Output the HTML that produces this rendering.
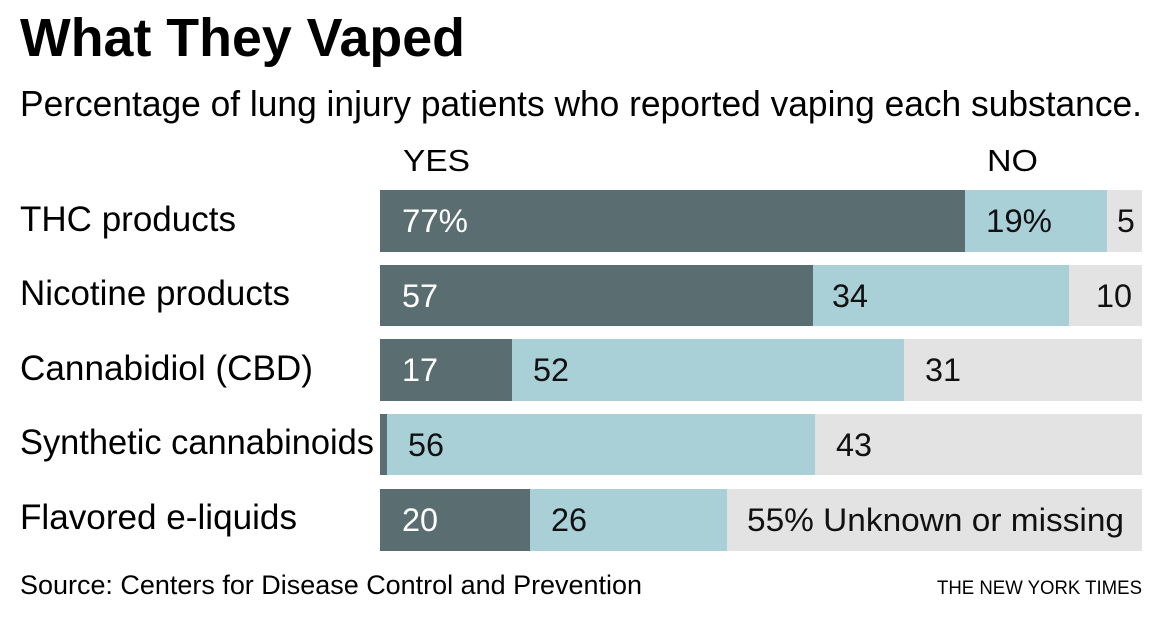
<!DOCTYPE html>
<html><head><meta charset="utf-8"><style>
html,body{margin:0;padding:0;background:#fff;}
svg{display:block;font-family:"Liberation Sans",Arial,sans-serif;}
</style></head><body>
<svg width="1164" height="622" viewBox="0 0 1164 622">
<text x="20" y="56" font-size="54" font-weight="bold" textLength="445" lengthAdjust="spacingAndGlyphs">What They Vaped</text>
<text x="20" y="116" font-size="36" textLength="1122" lengthAdjust="spacingAndGlyphs">Percentage of lung injury patients who reported vaping each substance.</text>
<text x="403" y="171" font-size="31" textLength="67" lengthAdjust="spacingAndGlyphs">YES</text>
<text x="987" y="171" font-size="31" textLength="51" lengthAdjust="spacingAndGlyphs">NO</text>
<g font-size="35">
<text x="20" y="231" textLength="216" lengthAdjust="spacingAndGlyphs">THC products</text>
<text x="20" y="305" textLength="270" lengthAdjust="spacingAndGlyphs">Nicotine products</text>
<text x="20" y="380" textLength="293" lengthAdjust="spacingAndGlyphs">Cannabidiol (CBD)</text>
<text x="20" y="454" textLength="354" lengthAdjust="spacingAndGlyphs">Synthetic cannabinoids</text>
<text x="20" y="529" textLength="277" lengthAdjust="spacingAndGlyphs">Flavored e-liquids</text>
</g>
<g>
<rect x="380" y="190" width="762" height="62" fill="#e3e3e3"/>
<rect x="380" y="190" width="727" height="62" fill="#a9d0d7"/>
<rect x="380" y="190" width="585" height="62" fill="#5a6d71"/>
<rect x="380" y="265" width="762" height="61" fill="#e3e3e3"/>
<rect x="380" y="265" width="689" height="61" fill="#a9d0d7"/>
<rect x="380" y="265" width="433" height="61" fill="#5a6d71"/>
<rect x="380" y="339" width="762" height="62" fill="#e3e3e3"/>
<rect x="380" y="339" width="524" height="62" fill="#a9d0d7"/>
<rect x="380" y="339" width="132" height="62" fill="#5a6d71"/>
<rect x="380" y="414" width="762" height="61" fill="#e3e3e3"/>
<rect x="380" y="414" width="435" height="61" fill="#a9d0d7"/>
<rect x="380" y="414" width="7" height="61" fill="#5a6d71"/>
<rect x="380" y="489" width="762" height="62" fill="#e3e3e3"/>
<rect x="380" y="489" width="347" height="62" fill="#a9d0d7"/>
<rect x="380" y="489" width="150" height="62" fill="#5a6d71"/>
</g>
<g font-size="32">
<text x="402" y="232" fill="#fff" textLength="66" lengthAdjust="spacingAndGlyphs">77%</text>
<text x="986" y="232" fill="#111" textLength="66" lengthAdjust="spacingAndGlyphs">19%</text>
<text x="1117" y="232" fill="#111">5</text>
<text x="402" y="307" fill="#fff" textLength="36" lengthAdjust="spacingAndGlyphs">57</text>
<text x="832" y="307" fill="#111" textLength="36" lengthAdjust="spacingAndGlyphs">34</text>
<text x="1096" y="307" fill="#111" textLength="36" lengthAdjust="spacingAndGlyphs">10</text>
<text x="402" y="381" fill="#fff" textLength="36" lengthAdjust="spacingAndGlyphs">17</text>
<text x="533" y="381" fill="#111" textLength="36" lengthAdjust="spacingAndGlyphs">52</text>
<text x="925" y="381" fill="#111" textLength="36" lengthAdjust="spacingAndGlyphs">31</text>
<text x="408" y="456" fill="#111" textLength="36" lengthAdjust="spacingAndGlyphs">56</text>
<text x="836" y="456" fill="#111" textLength="36" lengthAdjust="spacingAndGlyphs">43</text>
<text x="402" y="531" fill="#fff" textLength="36" lengthAdjust="spacingAndGlyphs">20</text>
<text x="551" y="531" fill="#111" textLength="36" lengthAdjust="spacingAndGlyphs">26</text>
<text x="747" y="531" fill="#111" textLength="377" lengthAdjust="spacingAndGlyphs">55% Unknown or missing</text>
</g>
<text x="20" y="594" font-size="27" textLength="622" lengthAdjust="spacingAndGlyphs">Source: Centers for Disease Control and Prevention</text>
<text x="937" y="594" font-size="19" textLength="205" lengthAdjust="spacingAndGlyphs">THE NEW YORK TIMES</text>
</svg>
</body></html>
